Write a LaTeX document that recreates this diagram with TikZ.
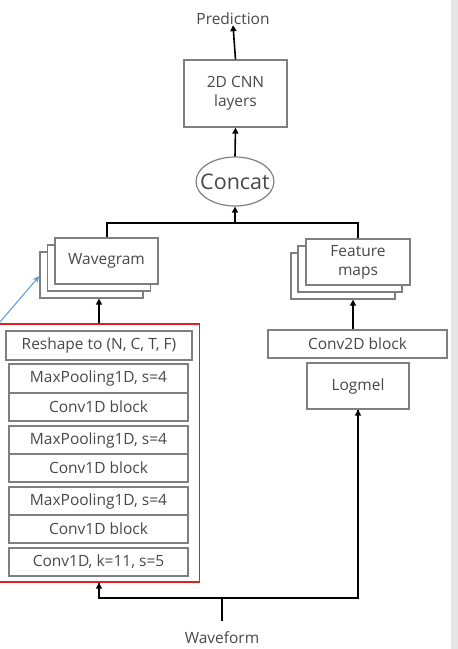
\documentclass[tikz,border=0pt]{standalone}
\usepackage{fontspec}
\setmainfont{Open Sans}
\usetikzlibrary{arrows.meta,shapes.geometric}
\definecolor{boxgray}{HTML}{7F7F7F}
\definecolor{txt}{HTML}{484848}
\definecolor{redb}{HTML}{E02020}
\definecolor{blueb}{HTML}{5B9BD5}
\definecolor{sbar}{HTML}{E6E6E6}
\tikzset{
  box/.style={draw=boxgray, line width=1.3pt, fill=white, inner sep=0pt, text=txt, font=\fontsize{15.5}{19}\selectfont, align=center},
  lbl/.style={inner sep=0pt, text=txt, font=\fontsize{15.5}{19}\selectfont},
  arr/.style={line width=1.6pt, -{Triangle[length=6pt,width=6pt]}},
  ln/.style={line width=1.6pt},
}
\begin{document}
\begin{tikzpicture}[x=1pt,y=-1pt]
\useasboundingbox (0,0) rectangle (458,649);
\fill[sbar] (451,0) rectangle (458,649);
% top
\node[lbl] (pred) at (233,19) {Prediction};
\node[box, minimum width=103pt, minimum height=67pt] (cnn) at (235.5,93.5) {2D CNN\\layers};
\node[draw=boxgray, line width=1.2pt, ellipse, inner xsep=-14pt, inner ysep=-6pt, minimum width=78pt, minimum height=49pt, text=txt, font=\fontsize{21.5}{25}\selectfont] (concat) at (235,181.5) {Concat};
% wavegram stack
\node[box, minimum width=103pt, minimum height=46pt] (wb) at (91.5,275) {};
\node[box, minimum width=103pt, minimum height=46pt] (wm) at (99,268) {};
\node[box, minimum width=103pt, minimum height=46pt] (wave) at (106.5,261) {Wavegram};
% feature stack
\node[box, minimum width=104pt, minimum height=46pt] (fb) at (343,276) {};
\node[box, minimum width=104pt, minimum height=46pt] (fm) at (350,269) {};
\node[box, minimum width=104pt, minimum height=46pt] (feat) at (358,262) {Feature\\maps};
% red group
\node[draw=redb, line width=1.3pt, minimum width=203pt, minimum height=258pt, inner sep=0pt] (red) at (98,453) {};
\node[box, minimum width=186pt, minimum height=29pt] (reshape) at (99,345.5) {Reshape to (N, C, T, F)};
\node[box, minimum width=179pt, minimum height=29pt] (mp1) at (98.5,378.5) {MaxPooling1D, s=4};
\node[box, minimum width=179pt, minimum height=28pt] (cb1) at (98.5,407) {Conv1D block};
\node[box, minimum width=179pt, minimum height=28pt] (mp2) at (98.5,440) {MaxPooling1D, s=4};
\node[box, minimum width=179pt, minimum height=28pt] (cb2) at (98.5,468) {Conv1D block};
\node[box, minimum width=179pt, minimum height=28pt] (mp3) at (98.5,501) {MaxPooling1D, s=4};
\node[box, minimum width=179pt, minimum height=28pt] (cb3) at (98.5,529) {Conv1D block};
\node[box, minimum width=179pt, minimum height=28pt] (c1d) at (98.5,562) {Conv1D, k=11, s=5};
% right branch
\node[box, minimum width=179pt, minimum height=28pt] (c2d) at (357.5,344) {Conv2D block};
\node[box, minimum width=102pt, minimum height=46pt] (logmel) at (358,386) {Logmel};
% waveform
\node[lbl] (wf) at (222,638) {Waveform};
\coordinate (wj) at (222,598);
\coordinate (tj) at (235,223);
\coordinate (bl) at (0,322);
% connectors
\draw[arr] (cnn.north) -- (pred.south);
\draw[arr] (concat.north) -- (cnn.south);
\draw[arr] (tj) -- (concat.south);
\draw[ln] (wave.north -| 107,0) |- (tj) -| (feat.north);
\draw[arr] (red.north -| 99,0) -- (wb.south -| 99,0);
\draw[arr] (c2d.north -| 353,0) -- (fb.south -| 353,0);
\draw[ln] (222,621) -- (wj);
\draw[ln] (wj) -| (logmel.south);
\draw[arr] (logmel.south |- wj) -- (logmel.south);
\draw[ln] (wj) -| (red.south -| 99,0);
\draw[arr] (wj -| 99,0) -- (red.south -| 99,0);
\draw[blueb, line width=1pt, -{Stealth[length=7pt,width=6pt]}] (bl) -- (wb.west |- 0,276);
\end{tikzpicture}
\end{document}
